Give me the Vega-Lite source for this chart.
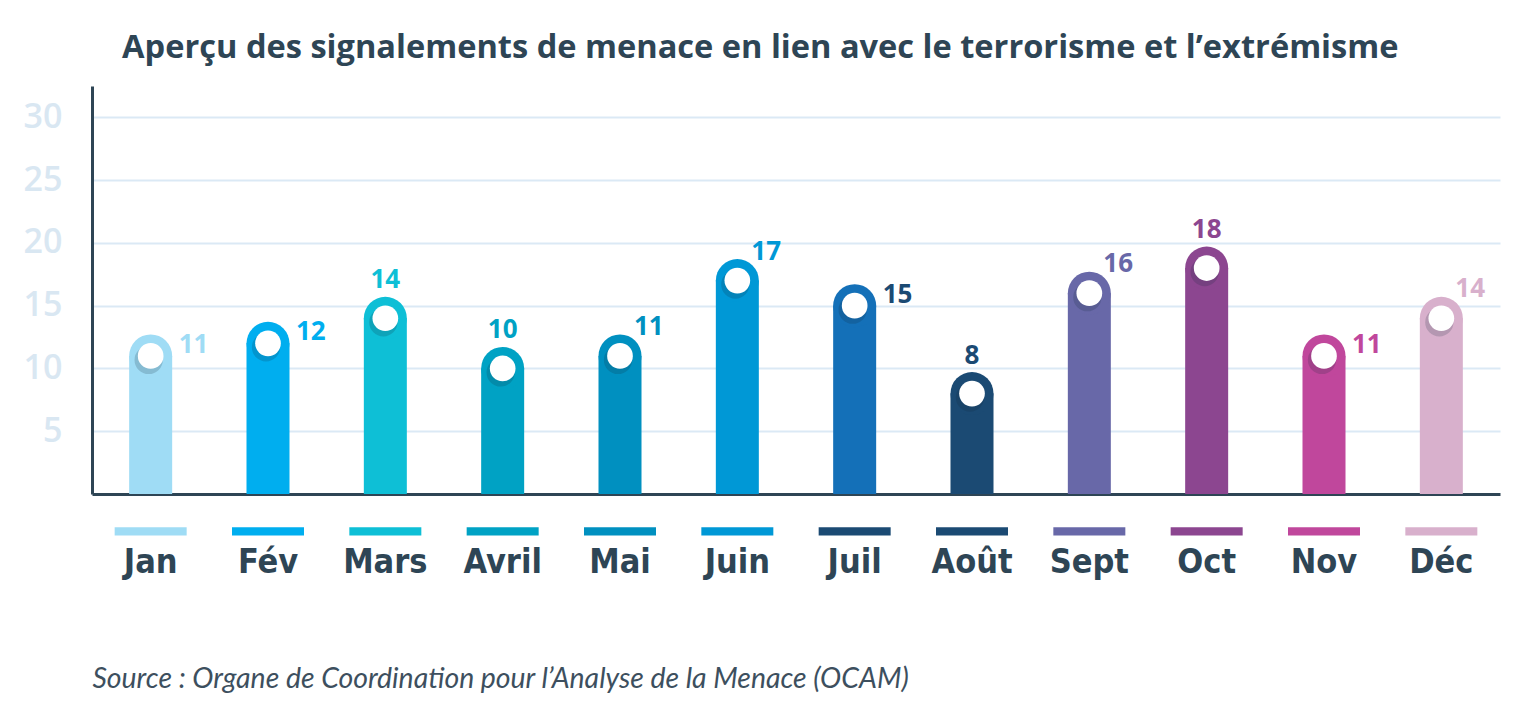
{
  "$schema": "https://vega.github.io/schema/vega-lite/v6.json",
  "autosize": {"type": "none"},
  "padding": {"left": 92, "top": 86, "right": 36, "bottom": 231},
  "width": 1408,
  "height": 408,
  "background": "#ffffff",
  "title": {
    "text": "Aperçu des signalements de menace en lien avec le terrorisme et l’extrémisme",
    "anchor": "start",
    "dx": 99,
    "offset": 21,
    "font": "Open Sans",
    "fontSize": 32.6,
    "fontWeight": 700,
    "color": "#2e4555"
  },
  "data": {
    "values": [
      {"mois": "Jan", "signalements": 11},
      {"mois": "Fév", "signalements": 12},
      {"mois": "Mars", "signalements": 14},
      {"mois": "Avril", "signalements": 10},
      {"mois": "Mai", "signalements": 11},
      {"mois": "Juin", "signalements": 17},
      {"mois": "Juil", "signalements": 15},
      {"mois": "Août", "signalements": 8},
      {"mois": "Sept", "signalements": 16},
      {"mois": "Oct", "signalements": 18},
      {"mois": "Nov", "signalements": 11},
      {"mois": "Déc", "signalements": 14}
    ]
  },
  "config": {
    "view": {"stroke": null}
  },
  "encoding": {
    "x": {
      "field": "mois",
      "type": "ordinal",
      "sort": null,
      "scale": {"paddingInner": 0.6, "paddingOuter": 0.3},
      "axis": {
        "title": "Source : Organe de Coordination pour l’Analyse de la Menace (OCAM)",
        "titleAnchor": "start",
        "titleFont": "Lato",
        "titleFontStyle": "italic",
        "titleFontWeight": "normal",
        "titleFontSize": 28.4,
        "titleColor": "#3d4f5e",
        "titlePadding": 86,
        "labelAngle": 0,
        "labelFont": "DejaVu Sans Condensed",
        "labelFontWeight": "bold",
        "labelFontSize": 34,
        "labelColor": "#2e4555",
        "labelPadding": 51,
        "ticks": false,
        "domainColor": "#2e4555",
        "domainWidth": 3
      }
    },
    "y": {
      "field": "signalements",
      "type": "quantitative",
      "scale": {"domain": [0, 32.5], "nice": false, "clamp": false},
      "axis": {
        "title": null,
        "values": [5, 10, 15, 20, 25, 30],
        "labelFont": "Open Sans",
        "labelFontSize": 34,
        "labelFontWeight": 600,
        "labelColor": "#d9e7f2",
        "labelPadding": 30,
        "ticks": false,
        "grid": true,
        "gridColor": "#dbe9f5",
        "gridWidth": 2,
        "domainColor": "#2e4555",
        "domainWidth": 3
      }
    }
  },
  "layer": [
    {
      "mark": {"type": "bar", "width": 43},
      "encoding": {
        "color": {
          "field": "mois", "type": "nominal", "sort": null, "legend": null,
          "scale": {"range": ["#9fdcf5", "#00aeef", "#0ebfd6", "#00a2c4", "#0090c0", "#0098d6", "#1470b8", "#1b4a73", "#6868a8", "#8c4690", "#c0479c", "#d8b0cc"]}
        }
      }
    },
    {
      "mark": {"type": "point", "shape": "circle", "filled": true, "opacity": 1, "size": 1849},
      "encoding": {
        "color": {
          "field": "mois", "type": "nominal", "sort": null, "legend": null,
          "scale": {"range": ["#9fdcf5", "#00aeef", "#0ebfd6", "#00a2c4", "#0090c0", "#0098d6", "#1470b8", "#1b4a73", "#6868a8", "#8c4690", "#c0479c", "#d8b0cc"]}
        }
      }
    },
    {
      "mark": {"type": "point", "shape": "circle", "filled": true, "opacity": 0.18, "size": 800, "color": "#10263a", "xOffset": -2, "yOffset": 4},
      "encoding": {}
    },
    {
      "mark": {"type": "point", "shape": "circle", "filled": true, "opacity": 1, "size": 660, "color": "#ffffff"},
      "encoding": {}
    },
    {
      "transform": [{"filter": {"field": "mois", "oneOf": ["Jan", "Fév", "Juil", "Nov"]}}],
      "mark": {"type": "text", "align": "left", "baseline": "middle", "dx": 28, "dy": -11, "font": "Open Sans", "fontWeight": 700, "fontSize": 26},
      "encoding": {
        "text": {"field": "signalements", "type": "quantitative"},
        "color": {
          "field": "mois", "type": "nominal", "sort": null, "legend": null,
          "scale": {"domain": ["Jan", "Fév", "Juil", "Nov"], "range": ["#9fdcf5", "#00aeef", "#1b4a73", "#c0479c"]}
        }
      }
    },
    {
      "transform": [{"filter": {"field": "mois", "oneOf": ["Mai", "Juin", "Sept", "Déc"]}}],
      "mark": {"type": "text", "align": "left", "baseline": "middle", "dx": 14, "dy": -29, "font": "Open Sans", "fontWeight": 700, "fontSize": 26},
      "encoding": {
        "text": {"field": "signalements", "type": "quantitative"},
        "color": {
          "field": "mois", "type": "nominal", "sort": null, "legend": null,
          "scale": {"domain": ["Mai", "Juin", "Sept", "Déc"], "range": ["#0090c0", "#0098d6", "#6868a8", "#d8b0cc"]}
        }
      }
    },
    {
      "transform": [{"filter": {"field": "mois", "oneOf": ["Mars", "Avril", "Août", "Oct"]}}],
      "mark": {"type": "text", "align": "center", "baseline": "middle", "dy": -38, "font": "Open Sans", "fontWeight": 700, "fontSize": 26},
      "encoding": {
        "text": {"field": "signalements", "type": "quantitative"},
        "color": {
          "field": "mois", "type": "nominal", "sort": null, "legend": null,
          "scale": {"domain": ["Mars", "Avril", "Août", "Oct"], "range": ["#0ebfd6", "#00a2c4", "#1b4a73", "#8c4690"]}
        }
      }
    },
    {
      "mark": {"type": "bar", "width": 72},
      "encoding": {
        "y": {"datum": -2.65},
        "y2": {"datum": -3.3},
        "color": {
          "field": "mois", "type": "nominal", "sort": null, "legend": null,
          "scale": {"range": ["#9fdcf5", "#00aeef", "#0ebfd6", "#00a2c4", "#0090c0", "#0098d6", "#1b4a73", "#1b4a73", "#6868a8", "#8c4690", "#c0479c", "#d8b0cc"]}
        }
      }
    }
  ],
  "resolve": {"scale": {"color": "independent"}}
}
